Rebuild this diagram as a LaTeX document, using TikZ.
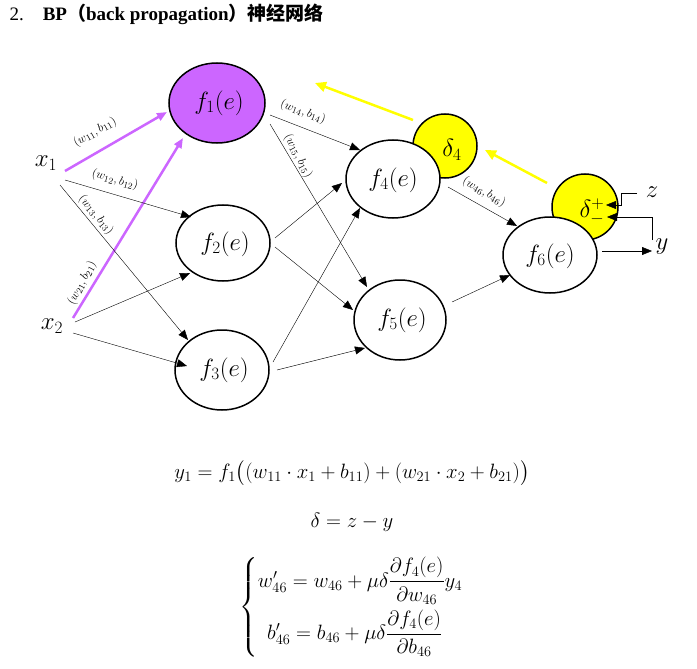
\documentclass[tikz,border=0pt]{standalone}
\usepackage{amsmath}
\usepackage{fontspec}
\newfontfamily\cjk{Noto Sans CJK SC}
\newfontfamily\tnr{Liberation Serif}
\usetikzlibrary{arrows.meta}
\definecolor{purp}{RGB}{204,102,255}
\definecolor{yel}{RGB}{255,255,0}
\tikzset{
 ell/.style={draw,line width=1.5pt},
 conn/.style={-{Triangle[length=10pt,width=8pt]}},
 pconn/.style={-{Triangle[length=10pt,width=8pt]},purp,line width=2.5pt},
 yconn/.style={-{Triangle[length=11pt,width=10pt]},yel,line width=2.5pt},
 wl/.style={font=\fontsize{13}{14}\selectfont,inner sep=1pt},
 fl/.style={font=\fontsize{24}{26}\selectfont},
 lab/.style={font=\fontsize{24}{26}\selectfont},
 eq/.style={font=\fontsize{21}{24}\selectfont}
}
\begin{document}
\begin{tikzpicture}[x=1pt,y=-1pt]
\useasboundingbox (0,0) rectangle (697,669);
\node[anchor=west,font=\fontsize{19}{21}\selectfont] (title) at (6,14) {\tnr 2.\quad\textbf{BP}\cjk\bfseries（\tnr\bfseries back propagation\cjk\bfseries）神经网络};
% delta circles
\draw[ell,fill=yel] (445,146) circle (32);
\node[fl] (d4) at (452,150) {$\delta_4$};
\draw[ell,fill=yel] (585,207) circle (33);
\node[fl] (dpm) at (592,212) {$\delta_{-}^{+}$};
% neurons
\draw[ell,fill=purp] (217,103) ellipse (48 and 40);
\node[fl] (f1) at (219,103) {$f_1(e)$};
\draw[ell,fill=white] (223,243) ellipse (47 and 38);
\node[fl] (f2) at (225,244) {$f_2(e)$};
\draw[ell,fill=white] (222,370) ellipse (47 and 40);
\node[fl] (f3) at (224,370) {$f_3(e)$};
\draw[ell,fill=white] (393,179) ellipse (47 and 39);
\node[fl] (f4) at (393,180) {$f_4(e)$};
\draw[ell,fill=white] (400,320) ellipse (46 and 40);
\node[fl] (f5) at (402,320) {$f_5(e)$};
\draw[ell,fill=white] (550,255) ellipse (47 and 38);
\node[fl] (f6) at (550,256) {$f_6(e)$};
\node[lab] (x1) at (46,163) {$x_1$};
\node[lab] (x2) at (52,326) {$x_2$};
\node[lab] (z) at (652,192) {$z$};
\node[lab] (y) at (662,247) {$y$};
% connections
\draw[pconn] (65,171) -- (167,112);
\draw[pconn] (73,318) -- (183,138);
\draw[conn] (65,180) -- (191,217);
\draw[conn] (60,185) -- (188,340);
\draw[conn] (75,322) -- (190,273);
\draw[conn] (73,333) -- (187,366);
\draw[conn] (270,115) -- (360,150);
\draw[conn] (270,124) -- (367,287);
\draw[conn] (275,238) -- (342,183);
\draw[conn] (275,247) -- (353,310);
\draw[conn] (273,362) -- (360,208);
\draw[conn] (277,370) -- (365,348);
\draw[conn] (448,187) -- (517,226);
\draw[conn] (452,302) -- (510,275);
\draw[conn] (602,251) -- (652,251);
\draw[conn] (637,193) -- (621,193) -- (621,205) -- (606,205);
\draw[conn] (652,240) -- (652,217) -- (607,217);
\draw[yconn] (413,120) -- (315,83);
\draw[yconn] (547,183) -- (485,150);
% weight labels
\node[wl,rotate=30] (l11) at (95,132) {$(w_{11},b_{11})$};
\node[wl,rotate=-15] (l12) at (115,180) {$(w_{12},b_{12})$};
\node[wl,rotate=-50] (l13) at (96,215) {$(w_{13},b_{13})$};
\node[wl,rotate=62] (l21) at (82,283) {$(w_{21},b_{21})$};
\node[wl,rotate=-20] (l14) at (303,112) {$(w_{14},b_{14})$};
\node[wl,rotate=-62] (l15) at (298,156) {$(w_{15},b_{15})$};
\node[wl,rotate=-30] (l46) at (484,192) {$(w_{46},b_{46})$};
% equations
\node[eq] (e1) at (352,473) {$y_1=f_1\big((w_{11}\cdot x_1+b_{11})+(w_{21}\cdot x_2+b_{21})\big)$};
\node[eq] (e2) at (352,522) {$\delta=z-y$};
\node[eq,anchor=west] (e3) at (236,607) {$\begin{cases} w_{46}'=w_{46}+\mu\delta\dfrac{\partial f_4(e)}{\partial w_{46}}y_4\\[14pt] \;\,b_{46}'=b_{46}+\mu\delta\dfrac{\partial f_4(e)}{\partial b_{46}}\end{cases}$};
\end{tikzpicture}
\end{document}
